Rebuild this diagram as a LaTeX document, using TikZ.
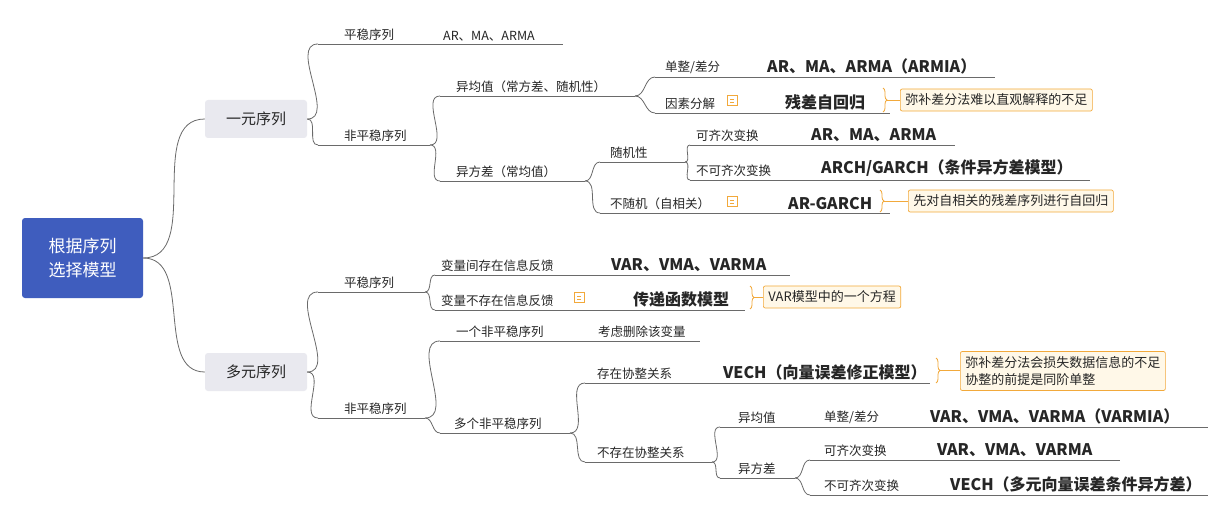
\documentclass[tikz,border=0pt]{standalone}
\usepackage{fontspec}
\setmainfont{Noto Sans CJK SC}
\usetikzlibrary{decorations.pathreplacing}
\definecolor{lnc}{HTML}{6A6A6A}
\definecolor{rootc}{HTML}{3F5DBE}
\definecolor{boxc}{HTML}{E9E9EF}
\definecolor{notec}{HTML}{F2A93B}
\definecolor{notef}{HTML}{FFF8E8}
\tikzset{x=1pt,y=-1pt,
 ln/.style={draw=lnc,line width=0.8pt},
 reg/.style={font=\fontsize{12.5}{14}\selectfont,text=black!85,inner sep=1pt},
 bld/.style={font=\fontsize{16}{18}\selectfont\bfseries,text=black!85,inner sep=1pt},
 note/.style={draw=notec,fill=notef,rounded corners=2pt,font=\fontsize{13}{17}\selectfont,text=black!85,inner sep=5pt,align=left,anchor=west,line width=0.7pt},
 br/.style={draw=notec,line width=0.8pt,decorate,decoration={brace,amplitude=4pt}},
 ic/.style={draw=notec,line width=0.7pt}}
\newcommand\tp[6]{\coordinate (#1s) at (#2,#4); \coordinate (#1e) at (#3,#4);
 \draw[ln] (#1s)--(#1e); \node[#6,anchor=south west] (#1) at (#2+5,#4-2) {#5};}
\newcommand\lk[2]{\draw[ln] (#1) to[out=0,in=180] (#2);}
\newcommand\icn[2]{\draw[ic] (#1-5,#2-5) rectangle (#1+5,#2+5); \draw[ic] (#1-2,#2-1)--(#1+2,#2-1) (#1-2,#2+2)--(#1+2,#2+2);}
\begin{document}
\begin{tikzpicture}
\useasboundingbox[fill=white] (0,0) rectangle (1231,516);
\node[fill=rootc,rounded corners=3pt,minimum width=121pt,minimum height=80pt,text=white,align=center,font=\fontsize{17}{24}\selectfont] (root) at (82.5,258) {根据序列\\选择模型};
\node[fill=boxc,rounded corners=3pt,minimum width=102pt,minimum height=38pt,font=\fontsize{15}{18}\selectfont,text=black!85] (yi) at (256,119) {一元序列};
\node[fill=boxc,rounded corners=3pt,minimum width=102pt,minimum height=38pt,font=\fontsize{15}{18}\selectfont,text=black!85] (duo) at (256,372) {多元序列};
\lk{root.east}{yi.west}
\lk{root.east}{duo.west}
% univariate
\tp{a}{318}{425}{44}{\hspace{20pt}平稳序列}{reg}
\tp{a1}{425}{563}{44}{\hspace{12pt}AR、MA、ARMA}{reg}
\tp{b}{318}{430}{145}{\hspace{20pt}非平稳序列}{reg}
\lk{yi.east}{as} \lk{yi.east}{bs}
\tp{c}{440}{635}{96}{\hspace{10pt}异均值（常方差、随机性）}{reg}
\tp{d}{440}{585}{181}{\hspace{10pt}异方差（常均值）}{reg}
\lk{be}{cs} \lk{be}{ds}
\tp{c1}{655}{755}{77}{\hspace{4pt}单整/差分}{reg}
\tp{c1a}{755}{995}{77}{\hspace{6pt}AR、MA、ARMA（ARMIA）}{bld}
\tp{c2}{655}{765}{113}{\hspace{4pt}因素分解}{reg}
\tp{c2a}{765}{890}{113}{\hspace{14pt}残差自回归}{bld}
\lk{ce}{c1s} \lk{ce}{c2s}
\icn{732}{100}
\draw[br] (883,88)--(883,112); \draw[notec,line width=0.8pt] (887,100)--(900,100);
\node[note] (n1) at (900,100) {弥补差分法难以直观解释的不足};
\tp{e}{600}{685}{162}{\hspace{4pt}随机性}{reg}
\tp{f}{600}{780}{213}{\hspace{4pt}不随机（自相关）}{reg}
\tp{fa}{780}{890}{213}{\hspace{2pt}AR-GARCH}{bld}
\lk{de}{es} \lk{de}{fs}
\icn{732}{201}
\draw[br] (880,190)--(880,212); \draw[notec,line width=0.8pt] (884,201)--(908,201);
\node[note] (n2) at (908,201) {先对自相关的残差序列进行自回归};
\tp{g}{690}{805}{145}{可齐次变换}{reg}
\tp{ga}{805}{955}{145}{AR、MA、ARMA}{bld}
\tp{h}{690}{815}{180}{不可齐次变换}{reg}
\tp{ha}{815}{1090}{180}{ARCH/GARCH（条件异方差模型）}{bld}
\lk{ee}{gs} \lk{ee}{hs}
% multivariate
\tp{p}{318}{425}{292}{\hspace{20pt}平稳序列}{reg}
\tp{q}{318}{425}{418}{\hspace{20pt}非平稳序列}{reg}
\lk{duo.east}{ps} \lk{duo.east}{qs}
\tp{p1}{435}{595}{275}{变量间存在信息反馈}{reg}
\tp{p1a}{595}{790}{275}{\hspace{10pt}VAR、VMA、VARMA}{bld}
\tp{p2}{435}{605}{310}{变量不存在信息反馈}{reg}
\tp{p2a}{605}{745}{310}{\hspace{22pt}传递函数模型}{bld}
\lk{pe}{p1s} \lk{pe}{p2s}
\icn{579}{297}
\draw[br] (750,286)--(750,309); \draw[notec,line width=0.8pt] (754,297)--(763,297);
\node[note] (n3) at (763,297) {VAR模型中的一个方程};
\tp{r}{440}{585}{341}{\hspace{10pt}一个非平稳序列}{reg}
\tp{ra}{585}{700}{341}{\hspace{7pt}考虑删除该变量}{reg}
\tp{s}{440}{570}{433}{\hspace{8pt}多个非平稳序列}{reg}
\lk{qe}{rs} \lk{qe}{ss}
\tp{s1}{585}{705}{383}{\hspace{6pt}存在协整关系}{reg}
\tp{s1a}{705}{930}{383}{\hspace{12pt}VECH（向量误差修正模型）}{bld}
\tp{s2}{585}{712}{462}{\hspace{6pt}不存在协整关系}{reg}
\lk{se}{s1s} \lk{se}{s2s}
\draw[br] (936,358)--(936,383); \draw[notec,line width=0.8pt] (940,370)--(960,370);
\node[note] (n4) at (960,371) {弥补差分法会损失数据信息的不足\\协整的前提是同阶单整};
\tp{t}{720}{808}{427}{\hspace{12pt}异均值}{reg}
\tp{ta}{808}{912}{427}{\hspace{10pt}单整/差分}{reg}
\tp{tb}{912}{1208}{427}{\hspace{12pt}VAR、VMA、VARMA（VARMIA）}{bld}
\tp{u}{720}{795}{478}{\hspace{12pt}异方差}{reg}
\lk{s2e}{ts} \lk{s2e}{us}
\tp{u1}{810}{915}{460}{\hspace{8pt}可齐次变换}{reg}
\tp{u1a}{915}{1120}{460}{\hspace{16pt}VAR、VMA、VARMA}{bld}
\tp{u2}{810}{928}{495}{\hspace{8pt}不可齐次变换}{reg}
\tp{u2a}{928}{1208}{495}{\hspace{16pt}VECH（多元向量误差条件异方差）}{bld}
\lk{ue}{u1s} \lk{ue}{u2s}
\end{tikzpicture}
\end{document}
